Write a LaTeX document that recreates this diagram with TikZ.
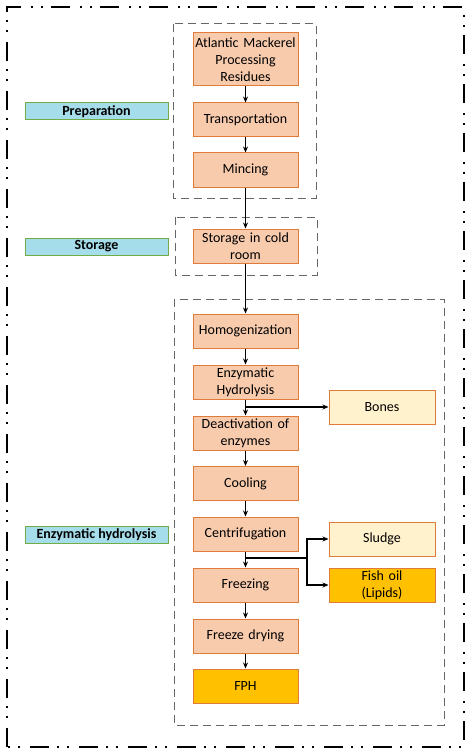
\documentclass[tikz,border=0pt]{standalone}
\usepackage{fontspec}
\setmainfont{Carlito}
\usepackage{xcolor}
\usepackage{tikz}
\usetikzlibrary{arrows.meta}
\definecolor{stepfill}{HTML}{F8CBAD}
\definecolor{stepline}{HTML}{E07B39}
\definecolor{sidefill}{HTML}{FFF2CC}
\definecolor{prodfill}{HTML}{FFC000}
\definecolor{labfill}{HTML}{A6DDEA}
\definecolor{labline}{HTML}{70AD47}
\tikzset{
	stepbox/.style={rectangle,draw=stepline,line width=1pt,fill=stepfill,text=black,
		minimum width=105pt,minimum height=34pt,text width=103pt,align=center,inner sep=1pt,
		font=\fontsize{14}{16.7}\selectfont},
	labbox/.style={rectangle,draw=labline,line width=1pt,fill=labfill,text=black,
		minimum width=143pt,minimum height=17pt,inner sep=0pt,
		font=\fontsize{14}{16.7}\selectfont\bfseries},
	groupbox/.style={draw=black!60,line width=1pt,dash pattern=on 8pt off 5pt},
}
\begin{document}
\begin{tikzpicture}[x=1pt,y=-1pt,>={Stealth[length=6pt,width=5pt]}] % flow chart of FPH production
	\useasboundingbox (0,0) rectangle (474,754);
	\draw[line width=2.2pt,dash pattern=on 19pt off 10pt on 1.8pt off 8.2pt on 1.8pt off 8.2pt]
	(7,747) -- (7,7) -- (464,7) -- (464,747) -- cycle; % outer frame
	
	\draw[groupbox] (173,24) rectangle (316,198);
	\draw[groupbox] (175,217) rectangle (317,275);
	\draw[groupbox] (174,299) rectangle (444,725);
	
	\node[stepbox,minimum height=53pt] (s1) at (245.5,59.5) {Atlantic Mackerel\\Processing\\Residues};
	\foreach \i/\y/\name in {2/120/Transportation,3/170/Mincing,4/246/{Storage in cold\\room},
		5/331/Homogenization,6/382/{Enzymatic\\Hydrolysis},7/433/{Deactivation of\\enzymes},
		8/483.5/Cooling,9/534/Centrifugation,10/585/Freezing,11/636/Freeze drying}{
		\node[stepbox] (s\i) at (245.5,\y){\name};
	}
	\node[stepbox,fill=prodfill] (s12) at (245.5,686){FPH};
	
	\node[stepbox,fill=sidefill,minimum width=106pt] (bones) at (382,407){Bones};
	\node[stepbox,fill=sidefill,minimum width=106pt] (sludge) at (382,539){Sludge};
	\node[stepbox,fill=prodfill,minimum width=106pt] (oil) at (382,585){Fish oil\\(Lipids)};
	
	\node[labbox] (l1) at (96.5,111.5){Preparation};
	\node[labbox] (l2) at (96.5,246.5){Storage};
	\node[labbox] (l3) at (96.5,534.5){Enzymatic hydrolysis};
	
	\foreach \i/\j in {1/2,2/3,3/4,4/5,5/6,6/7,7/8,8/9,9/10,10/11,11/12}{
		\draw[->,line width=1.1pt] (s\i) -- (s\j);}
	
	\coordinate (b1) at (245.5,407);
	\draw[->,line width=1.1pt] (b1) -- (bones);
	
	\coordinate (c1) at (245.5,558);
	\coordinate (c2) at (307,558);
	\draw[line width=1.1pt] (c1) -- (c2);
	\draw[->,line width=1.1pt] (c2) |- (sludge);
	\draw[->,line width=1.1pt] (c2) |- (oil);
\end{tikzpicture}
\end{document}
